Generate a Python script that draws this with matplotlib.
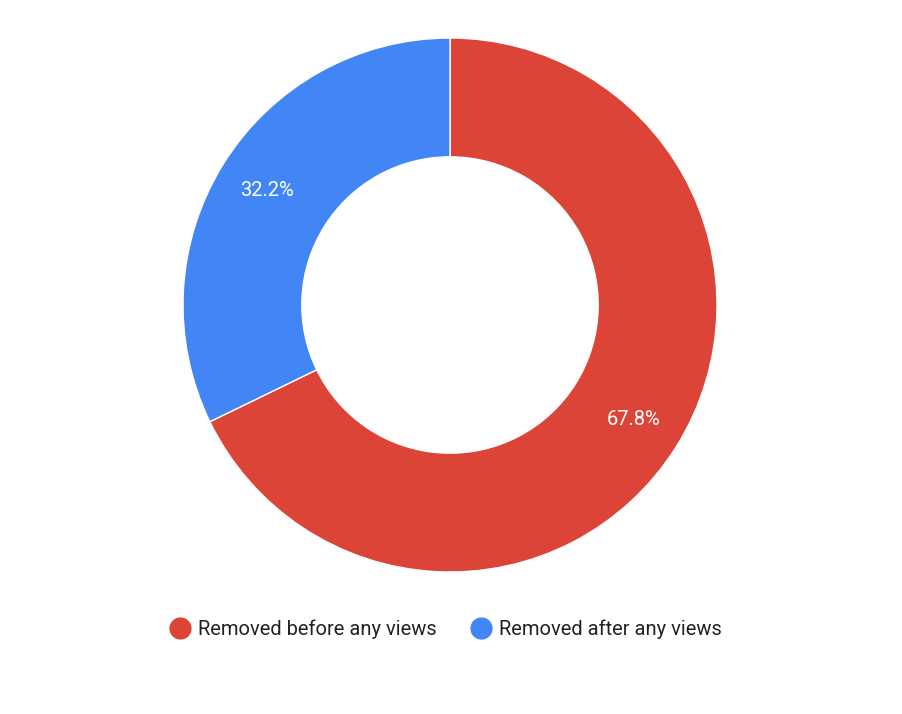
import matplotlib.pyplot as plt
from matplotlib.lines import Line2D

# data
labels = ["Removed before any views", "Removed after any views"]
shares = [67.8, 32.2]
colors = ["#DB4437", "#4285F4"]

plt.rcParams['font.family'] = ['Roboto', 'DejaVu Sans']

fig = plt.figure(figsize=(9.02, 7.14), dpi=100)
# donut centre at (450, 305) px, outer radius 267 px
cx, cy, r = 450, 305, 267
W, H = 902, 714
ax = fig.add_axes([(cx - r) / W, (H - cy - r) / H, 2 * r / W, 2 * r / H])

wedges, texts, autotexts = ax.pie(
    shares, colors=colors, startangle=90, counterclock=False,
    radius=1.0, autopct='%1.1f%%', pctdistance=0.81,
    wedgeprops=dict(width=0.445, edgecolor='white', linewidth=1),
    textprops=dict(color='white', fontsize=14.5))
ax.set_xlim(-1, 1)
ax.set_ylim(-1, 1)
ax.set_aspect('equal')
ax.axis('off')

handles = [Line2D([], [], marker='o', linestyle='', markersize=15,
                  markerfacecolor=c, markeredgecolor=c) for c in colors]
leg = fig.legend(handles, labels, loc='center', ncol=2,
                 bbox_to_anchor=(445 / W, 1 - 629 / H), frameon=False,
                 fontsize=14.5, handletextpad=0.3, columnspacing=1.6,
                 handlelength=1.2)
for t in leg.get_texts():
    t.set_color('#222222')

plt.savefig("out.png", dpi=100)
